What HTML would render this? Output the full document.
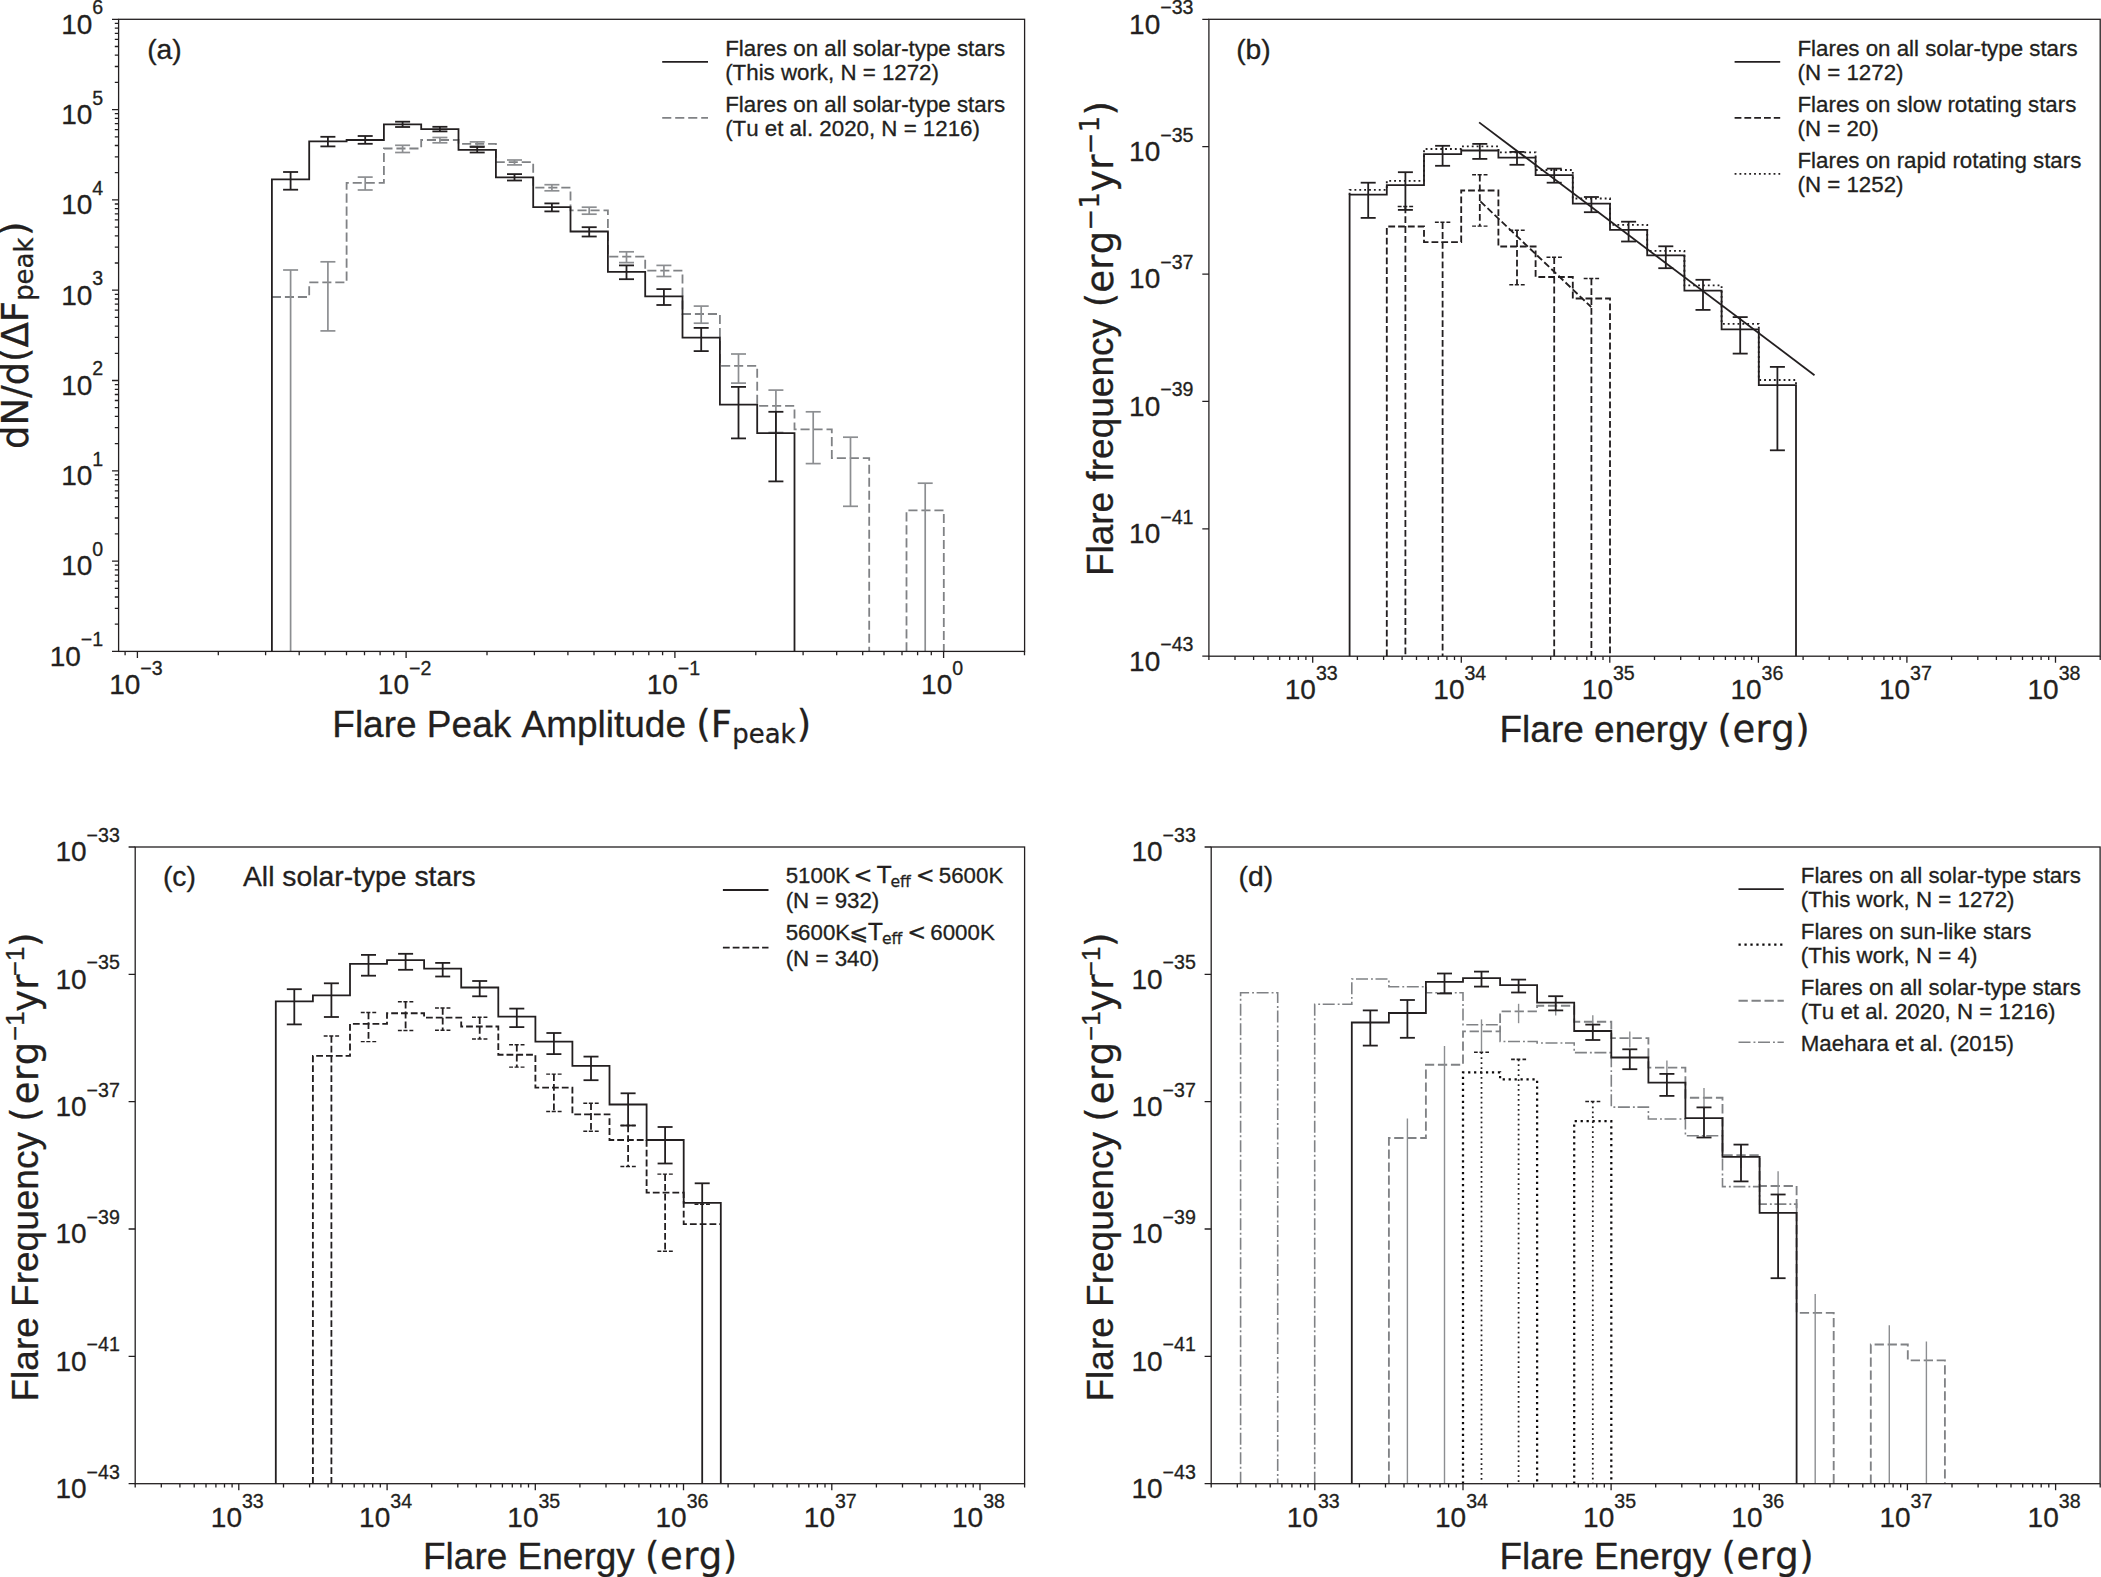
<!DOCTYPE html>
<html lang="en"><head><meta charset="utf-8"><title>Flare frequency distributions</title>
<style>
html,body{margin:0;padding:0;background:#fff}
svg{display:block}
text{font-family:"Liberation Sans",sans-serif;fill:#231f20;font-kerning:none;white-space:pre;stroke:#231f20;stroke-width:.3px;stroke-linejoin:round}
.mt{font-family:"DejaVu Sans",sans-serif}
.ax rect,.ax path{fill:none;stroke:#231f20;stroke-width:1.3}
.tk text{font-size:28px}
.tk .sp{font-size:19.6px}
.pl{font-size:28.3px}
.lg{font-size:22.3px}
.ls{font-size:15.6px}
.lm{font-size:22.6px}
.al{font-size:37px}
.ms{font-size:25.9px}
.ss{font-size:25.9px}
path,line{fill:none}
.ks{stroke:#231f20;stroke-width:1.8}
.ke{stroke:#231f20;stroke-width:1.8}
.gd{stroke:#808285;stroke-width:1.8;stroke-dasharray:9.1 3.9}
.ge{stroke:#8c8e91;stroke-width:1.7}
.kd{stroke:#231f20;stroke-width:1.85;stroke-dasharray:6.8 3}
.kd2{stroke:#231f20;stroke-width:1.85;stroke-dasharray:6.8 3}
.kde{stroke:#231f20;stroke-width:1.8;stroke-dasharray:6.8 3}
.kdc{stroke:#231f20;stroke-width:1.45;stroke-dasharray:3.9 1.6 4.1 1.9 3.9 9}
.kdot{stroke:#231f20;stroke-width:1.85;stroke-dasharray:1.85 3.02}
.gdd{stroke:#808285;stroke-width:1.6;stroke-dasharray:12 3 1.9 2.6}
.gd2{stroke:#808285;stroke-width:1.85;stroke-dasharray:9.3 3.7}
.gt{stroke:#8c8e91;stroke-width:1.4}
.kdot2{stroke:#0d0a0b;stroke-width:2.25;stroke-dasharray:2.25 3.7}
.kdte{stroke:#231f20;stroke-width:1.75;stroke-dasharray:1.75 3.2}
.kdtc{stroke:#231f20;stroke-width:1.6;stroke-dasharray:3.7 1.8 3.7 2.2 3.7 9}
</style></head>
<body>
<svg width="2101" height="1577" viewBox="0 0 2101 1577">
<rect width="2101" height="1577" fill="#fff"/>
<g id="pa">
<path d="M271.9 297H309.2V282.4H346.6V182.8H383.9V148.5H421.2V140H458.5V143.8H495.9V162.2H533.2V187.6H570.5V210.4H607.9V256.7H645.2V270.6H682.5V314H719.9V365.8H757.2V405.8H794.5V429.4H831.8V458.1H869.2V651.4" class="gd"/>
<path d="M906.5 651.4V510.3H943.8V651.4" class="gd"/>
<line x1="290.6" y1="270" x2="290.6" y2="651.4" class="ge"/>
<line x1="283.1" y1="270" x2="298.1" y2="270" class="ge"/>
<line x1="327.9" y1="261.8" x2="327.9" y2="330.9" class="ge"/>
<line x1="320.4" y1="261.8" x2="335.4" y2="261.8" class="ge"/>
<line x1="320.4" y1="330.9" x2="335.4" y2="330.9" class="ge"/>
<line x1="365.2" y1="177.1" x2="365.2" y2="190" class="ge"/>
<line x1="357.7" y1="177.1" x2="372.7" y2="177.1" class="ge"/>
<line x1="357.7" y1="190" x2="372.7" y2="190" class="ge"/>
<line x1="402.6" y1="145.3" x2="402.6" y2="152.5" class="ge"/>
<line x1="395.1" y1="145.3" x2="410.1" y2="145.3" class="ge"/>
<line x1="395.1" y1="152.5" x2="410.1" y2="152.5" class="ge"/>
<line x1="439.9" y1="137.5" x2="439.9" y2="142.8" class="ge"/>
<line x1="432.4" y1="137.5" x2="447.4" y2="137.5" class="ge"/>
<line x1="432.4" y1="142.8" x2="447.4" y2="142.8" class="ge"/>
<line x1="477.2" y1="141.9" x2="477.2" y2="146.1" class="ge"/>
<line x1="469.7" y1="141.9" x2="484.7" y2="141.9" class="ge"/>
<line x1="469.7" y1="146.1" x2="484.7" y2="146.1" class="ge"/>
<line x1="514.5" y1="160" x2="514.5" y2="164.9" class="ge"/>
<line x1="507" y1="160" x2="522" y2="160" class="ge"/>
<line x1="507" y1="164.9" x2="522" y2="164.9" class="ge"/>
<line x1="551.9" y1="184.7" x2="551.9" y2="190.8" class="ge"/>
<line x1="544.4" y1="184.7" x2="559.4" y2="184.7" class="ge"/>
<line x1="544.4" y1="190.8" x2="559.4" y2="190.8" class="ge"/>
<line x1="589.2" y1="207.2" x2="589.2" y2="214.2" class="ge"/>
<line x1="581.7" y1="207.2" x2="596.7" y2="207.2" class="ge"/>
<line x1="581.7" y1="214.2" x2="596.7" y2="214.2" class="ge"/>
<line x1="626.5" y1="251.8" x2="626.5" y2="262.6" class="ge"/>
<line x1="619" y1="251.8" x2="634" y2="251.8" class="ge"/>
<line x1="619" y1="262.6" x2="634" y2="262.6" class="ge"/>
<line x1="663.9" y1="265.4" x2="663.9" y2="276.5" class="ge"/>
<line x1="656.4" y1="265.4" x2="671.4" y2="265.4" class="ge"/>
<line x1="656.4" y1="276.5" x2="671.4" y2="276.5" class="ge"/>
<line x1="701.2" y1="306.1" x2="701.2" y2="323.2" class="ge"/>
<line x1="693.7" y1="306.1" x2="708.7" y2="306.1" class="ge"/>
<line x1="693.7" y1="323.2" x2="708.7" y2="323.2" class="ge"/>
<line x1="738.5" y1="354" x2="738.5" y2="383.1" class="ge"/>
<line x1="731" y1="354" x2="746" y2="354" class="ge"/>
<line x1="731" y1="383.1" x2="746" y2="383.1" class="ge"/>
<line x1="775.9" y1="390.1" x2="775.9" y2="432.5" class="ge"/>
<line x1="768.4" y1="390.1" x2="783.4" y2="390.1" class="ge"/>
<line x1="768.4" y1="432.5" x2="783.4" y2="432.5" class="ge"/>
<line x1="813.2" y1="411.8" x2="813.2" y2="463.6" class="ge"/>
<line x1="805.7" y1="411.8" x2="820.7" y2="411.8" class="ge"/>
<line x1="805.7" y1="463.6" x2="820.7" y2="463.6" class="ge"/>
<line x1="850.5" y1="437.2" x2="850.5" y2="506.3" class="ge"/>
<line x1="843" y1="437.2" x2="858" y2="437.2" class="ge"/>
<line x1="843" y1="506.3" x2="858" y2="506.3" class="ge"/>
<line x1="925.2" y1="483.2" x2="925.2" y2="651.4" class="ge"/>
<line x1="917.7" y1="483.2" x2="932.7" y2="483.2" class="ge"/>
<path d="M271.9 651.4V179.4H309.2V141.4H346.6V140H383.9V124.4H421.2V129.1H458.5V149.9H495.9V177.3H533.2V207.2H570.5V231.5H607.9V271.8H645.2V296.3H682.5V337.7H719.9V404.7H757.2V433.2H794.5V651.4" class="ks"/>
<line x1="290.6" y1="172" x2="290.6" y2="189.7" class="ke"/>
<line x1="283.1" y1="172" x2="298.1" y2="172" class="ke"/>
<line x1="283.1" y1="189.7" x2="298.1" y2="189.7" class="ke"/>
<line x1="327.9" y1="136.8" x2="327.9" y2="146.4" class="ke"/>
<line x1="320.4" y1="136.8" x2="335.4" y2="136.8" class="ke"/>
<line x1="320.4" y1="146.4" x2="335.4" y2="146.4" class="ke"/>
<line x1="365.2" y1="136" x2="365.2" y2="143.8" class="ke"/>
<line x1="357.7" y1="136" x2="372.7" y2="136" class="ke"/>
<line x1="357.7" y1="143.8" x2="372.7" y2="143.8" class="ke"/>
<line x1="402.6" y1="121.7" x2="402.6" y2="127" class="ke"/>
<line x1="395.1" y1="121.7" x2="410.1" y2="121.7" class="ke"/>
<line x1="395.1" y1="127" x2="410.1" y2="127" class="ke"/>
<line x1="439.9" y1="126.8" x2="439.9" y2="131.4" class="ke"/>
<line x1="432.4" y1="126.8" x2="447.4" y2="126.8" class="ke"/>
<line x1="432.4" y1="131.4" x2="447.4" y2="131.4" class="ke"/>
<line x1="477.2" y1="147" x2="477.2" y2="152.5" class="ke"/>
<line x1="469.7" y1="147" x2="484.7" y2="147" class="ke"/>
<line x1="469.7" y1="152.5" x2="484.7" y2="152.5" class="ke"/>
<line x1="514.5" y1="174.1" x2="514.5" y2="180.5" class="ke"/>
<line x1="507" y1="174.1" x2="522" y2="174.1" class="ke"/>
<line x1="507" y1="180.5" x2="522" y2="180.5" class="ke"/>
<line x1="551.9" y1="203.4" x2="551.9" y2="211.4" class="ke"/>
<line x1="544.4" y1="203.4" x2="559.4" y2="203.4" class="ke"/>
<line x1="544.4" y1="211.4" x2="559.4" y2="211.4" class="ke"/>
<line x1="589.2" y1="227.2" x2="589.2" y2="236.5" class="ke"/>
<line x1="581.7" y1="227.2" x2="596.7" y2="227.2" class="ke"/>
<line x1="581.7" y1="236.5" x2="596.7" y2="236.5" class="ke"/>
<line x1="626.5" y1="265.4" x2="626.5" y2="279.2" class="ke"/>
<line x1="619" y1="265.4" x2="634" y2="265.4" class="ke"/>
<line x1="619" y1="279.2" x2="634" y2="279.2" class="ke"/>
<line x1="663.9" y1="289.1" x2="663.9" y2="305" class="ke"/>
<line x1="656.4" y1="289.1" x2="671.4" y2="289.1" class="ke"/>
<line x1="656.4" y1="305" x2="671.4" y2="305" class="ke"/>
<line x1="701.2" y1="327.9" x2="701.2" y2="351.1" class="ke"/>
<line x1="693.7" y1="327.9" x2="708.7" y2="327.9" class="ke"/>
<line x1="693.7" y1="351.1" x2="708.7" y2="351.1" class="ke"/>
<line x1="738.5" y1="386.9" x2="738.5" y2="438.4" class="ke"/>
<line x1="731" y1="386.9" x2="746" y2="386.9" class="ke"/>
<line x1="731" y1="438.4" x2="746" y2="438.4" class="ke"/>
<line x1="775.9" y1="411.8" x2="775.9" y2="481.4" class="ke"/>
<line x1="768.4" y1="411.8" x2="783.4" y2="411.8" class="ke"/>
<line x1="768.4" y1="481.4" x2="783.4" y2="481.4" class="ke"/>
<g class="ax">
<rect x="118.6" y="19.3" width="906" height="632.1"/>
<path d="M137.4 651.4v6.6M406.1 651.4v6.6M674.9 651.4v6.6M943.6 651.4v6.6M125.1 651.4v3.8M218.3 651.4v3.8M265.6 651.4v3.8M299.2 651.4v3.8M325.2 651.4v3.8M346.5 651.4v3.8M364.5 651.4v3.8M380.1 651.4v3.8M393.8 651.4v3.8M487 651.4v3.8M534.4 651.4v3.8M567.9 651.4v3.8M594 651.4v3.8M615.3 651.4v3.8M633.2 651.4v3.8M648.8 651.4v3.8M662.6 651.4v3.8M755.8 651.4v3.8M803.1 651.4v3.8M836.7 651.4v3.8M862.7 651.4v3.8M884 651.4v3.8M902 651.4v3.8M917.6 651.4v3.8M931.3 651.4v3.8M1024.5 651.4v3.8M118.6 19.3h-6.6M118.6 109.6h-6.6M118.6 199.9h-6.6M118.6 290.2h-6.6M118.6 380.5h-6.6M118.6 470.8h-6.6M118.6 561.1h-6.6M118.6 651.4h-6.6M118.6 624.2h-3.8M118.6 608.3h-3.8M118.6 597h-3.8M118.6 588.3h-3.8M118.6 581.1h-3.8M118.6 575.1h-3.8M118.6 569.9h-3.8M118.6 565.2h-3.8M118.6 533.9h-3.8M118.6 518h-3.8M118.6 506.7h-3.8M118.6 498h-3.8M118.6 490.8h-3.8M118.6 484.8h-3.8M118.6 479.6h-3.8M118.6 474.9h-3.8M118.6 443.6h-3.8M118.6 427.7h-3.8M118.6 416.4h-3.8M118.6 407.7h-3.8M118.6 400.5h-3.8M118.6 394.5h-3.8M118.6 389.3h-3.8M118.6 384.6h-3.8M118.6 353.3h-3.8M118.6 337.4h-3.8M118.6 326.1h-3.8M118.6 317.4h-3.8M118.6 310.2h-3.8M118.6 304.2h-3.8M118.6 299h-3.8M118.6 294.3h-3.8M118.6 263h-3.8M118.6 247.1h-3.8M118.6 235.8h-3.8M118.6 227.1h-3.8M118.6 219.9h-3.8M118.6 213.9h-3.8M118.6 208.7h-3.8M118.6 204h-3.8M118.6 172.7h-3.8M118.6 156.8h-3.8M118.6 145.5h-3.8M118.6 136.8h-3.8M118.6 129.6h-3.8M118.6 123.6h-3.8M118.6 118.4h-3.8M118.6 113.7h-3.8M118.6 82.4h-3.8M118.6 66.5h-3.8M118.6 55.2h-3.8M118.6 46.5h-3.8M118.6 39.3h-3.8M118.6 33.3h-3.8M118.6 28.1h-3.8M118.6 23.4h-3.8"/>
</g>
<g class="tk">
<text x="135.9" y="694.4" text-anchor="middle">10<tspan class="sp" dy="-19.2">−3</tspan></text>
<text x="404.6" y="694.4" text-anchor="middle">10<tspan class="sp" dy="-19.2">−2</tspan></text>
<text x="673.4" y="694.4" text-anchor="middle">10<tspan class="sp" dy="-19.2">−1</tspan></text>
<text x="942.1" y="694.4" text-anchor="middle">10<tspan class="sp" dy="-19.2">0</tspan></text>
<text x="103.2" y="33.6" text-anchor="end">10<tspan class="sp" dy="-19.4">6</tspan></text>
<text x="103.2" y="123.9" text-anchor="end">10<tspan class="sp" dy="-19.4">5</tspan></text>
<text x="103.2" y="214.2" text-anchor="end">10<tspan class="sp" dy="-19.4">4</tspan></text>
<text x="103.2" y="304.5" text-anchor="end">10<tspan class="sp" dy="-19.4">3</tspan></text>
<text x="103.2" y="394.8" text-anchor="end">10<tspan class="sp" dy="-19.4">2</tspan></text>
<text x="103.2" y="485.1" text-anchor="end">10<tspan class="sp" dy="-19.4">1</tspan></text>
<text x="103.2" y="575.4" text-anchor="end">10<tspan class="sp" dy="-19.4">0</tspan></text>
<text x="103.2" y="665.7" text-anchor="end">10<tspan class="sp" dy="-19.4">−1</tspan></text>
</g>
<text class="pl" x="147.2" y="58.5">(a)</text>
<line x1="662.2" y1="61.9" x2="708" y2="61.9" class="ks"/>
<line x1="662.2" y1="117.9" x2="708" y2="117.9" class="gd"/>
<text class="lg" x="725.2" y="55.5">Flares on all solar-type stars</text>
<text class="lg" x="725.2" y="79.5">(This work, N = 1272)</text>
<text class="lg" x="725.2" y="111.5">Flares on all solar-type stars</text>
<text class="lg" x="725.2" y="135.5">(Tu et al. 2020, N = 1216)</text>
<text class="al" x="332.3" y="737.3">Flare Peak Amplitude <tspan class="mt">(F</tspan><tspan class="mt ms" dy="5.6" dx=".3">peak</tspan><tspan class="mt" dy="-5.6" dx="1.3">)</tspan></text>
<text class="al mt" transform="translate(28.2 449.0) rotate(-90)">dN/d(ΔF<tspan class="ms" dy="5.2">peak</tspan><tspan dy="-5.2" dx="1.6">)</tspan></text>
</g>
<g id="pb">
<path d="M1349.6 194.7V189.8H1386.8V180.8H1424V149H1461.2V146.4H1498.4V152.3H1535.6V170H1572.8V198.5H1610V224.8H1647.2V250.9H1684.4V285.3H1721.6V323.8H1758.8V380H1796V385.1" class="kdot"/>
<path d="M1386.8 656.2V226.5H1424V242.1H1461.2V190.5H1498.4V246.5H1535.6V277H1572.8V298.5H1610V656.2" class="kd"/>
<line x1="1405.4" y1="206.5" x2="1405.4" y2="656.2" class="kde"/>
<line x1="1397.7" y1="206.5" x2="1413.1" y2="206.5" class="kdc"/>
<line x1="1442.6" y1="222.3" x2="1442.6" y2="656.2" class="kde"/>
<line x1="1434.9" y1="222.3" x2="1450.3" y2="222.3" class="kdc"/>
<line x1="1479.8" y1="174.7" x2="1479.8" y2="226.1" class="kde"/>
<line x1="1472.1" y1="174.7" x2="1487.5" y2="174.7" class="kdc"/>
<line x1="1472.1" y1="226.1" x2="1487.5" y2="226.1" class="kdc"/>
<line x1="1517" y1="230.3" x2="1517" y2="284.8" class="kde"/>
<line x1="1509.3" y1="230.3" x2="1524.7" y2="230.3" class="kdc"/>
<line x1="1509.3" y1="284.8" x2="1524.7" y2="284.8" class="kdc"/>
<line x1="1554.2" y1="257.2" x2="1554.2" y2="656.2" class="kde"/>
<line x1="1546.5" y1="257.2" x2="1561.9" y2="257.2" class="kdc"/>
<line x1="1591.4" y1="278.5" x2="1591.4" y2="656.2" class="kde"/>
<line x1="1583.7" y1="278.5" x2="1599.1" y2="278.5" class="kdc"/>
<path d="M1349.6 656.2V194.7H1386.8V185.2H1424V154.2H1461.2V150.5H1498.4V157.6H1535.6V175.1H1572.8V203.7H1610V229.9H1647.2V255.3H1684.4V290.7H1721.6V329.3H1758.8V385.1H1796V656.2" class="ks"/>
<line x1="1368.2" y1="182.7" x2="1368.2" y2="217.9" class="ke"/>
<line x1="1360.7" y1="182.7" x2="1375.7" y2="182.7" class="ke"/>
<line x1="1360.7" y1="217.9" x2="1375.7" y2="217.9" class="ke"/>
<line x1="1405.4" y1="172.2" x2="1405.4" y2="209.9" class="ke"/>
<line x1="1397.9" y1="172.2" x2="1412.9" y2="172.2" class="ke"/>
<line x1="1397.9" y1="209.9" x2="1412.9" y2="209.9" class="ke"/>
<line x1="1442.6" y1="145.8" x2="1442.6" y2="165.8" class="ke"/>
<line x1="1435.1" y1="145.8" x2="1450.1" y2="145.8" class="ke"/>
<line x1="1435.1" y1="165.8" x2="1450.1" y2="165.8" class="ke"/>
<line x1="1479.8" y1="143.9" x2="1479.8" y2="158.9" class="ke"/>
<line x1="1472.3" y1="143.9" x2="1487.3" y2="143.9" class="ke"/>
<line x1="1472.3" y1="158.9" x2="1487.3" y2="158.9" class="ke"/>
<line x1="1517" y1="151.9" x2="1517" y2="164.8" class="ke"/>
<line x1="1509.5" y1="151.9" x2="1524.5" y2="151.9" class="ke"/>
<line x1="1509.5" y1="164.8" x2="1524.5" y2="164.8" class="ke"/>
<line x1="1554.2" y1="168.6" x2="1554.2" y2="182.7" class="ke"/>
<line x1="1546.7" y1="168.6" x2="1561.7" y2="168.6" class="ke"/>
<line x1="1546.7" y1="182.7" x2="1561.7" y2="182.7" class="ke"/>
<line x1="1591.4" y1="197" x2="1591.4" y2="212.2" class="ke"/>
<line x1="1583.9" y1="197" x2="1598.9" y2="197" class="ke"/>
<line x1="1583.9" y1="212.2" x2="1598.9" y2="212.2" class="ke"/>
<line x1="1628.6" y1="221.7" x2="1628.6" y2="241.5" class="ke"/>
<line x1="1621.1" y1="221.7" x2="1636.1" y2="221.7" class="ke"/>
<line x1="1621.1" y1="241.5" x2="1636.1" y2="241.5" class="ke"/>
<line x1="1665.8" y1="246.3" x2="1665.8" y2="268.2" class="ke"/>
<line x1="1658.3" y1="246.3" x2="1673.3" y2="246.3" class="ke"/>
<line x1="1658.3" y1="268.2" x2="1673.3" y2="268.2" class="ke"/>
<line x1="1703" y1="279.8" x2="1703" y2="309.9" class="ke"/>
<line x1="1695.5" y1="279.8" x2="1710.5" y2="279.8" class="ke"/>
<line x1="1695.5" y1="309.9" x2="1710.5" y2="309.9" class="ke"/>
<line x1="1740.2" y1="317.1" x2="1740.2" y2="353.6" class="ke"/>
<line x1="1732.7" y1="317.1" x2="1747.7" y2="317.1" class="ke"/>
<line x1="1732.7" y1="353.6" x2="1747.7" y2="353.6" class="ke"/>
<line x1="1777.4" y1="366.9" x2="1777.4" y2="450.3" class="ke"/>
<line x1="1769.9" y1="366.9" x2="1784.9" y2="366.9" class="ke"/>
<line x1="1769.9" y1="450.3" x2="1784.9" y2="450.3" class="ke"/>
<line x1="1479.1" y1="122.4" x2="1814.5" y2="375.2" class="ks"/>
<line x1="1480.4" y1="201.4" x2="1591.2" y2="307" class="kd2"/>
<g class="ax">
<rect x="1208.9" y="19.3" width="891.3" height="636.9"/>
<path d="M1312.7 656.2v6.6M1461.3 656.2v6.6M1609.8 656.2v6.6M1758.4 656.2v6.6M1906.9 656.2v6.6M2055.5 656.2v6.6M1208.9 656.2v3.8M1235 656.2v3.8M1253.6 656.2v3.8M1268 656.2v3.8M1279.7 656.2v3.8M1289.7 656.2v3.8M1298.3 656.2v3.8M1305.9 656.2v3.8M1357.4 656.2v3.8M1383.6 656.2v3.8M1402.1 656.2v3.8M1416.5 656.2v3.8M1428.3 656.2v3.8M1438.2 656.2v3.8M1446.9 656.2v3.8M1454.5 656.2v3.8M1506 656.2v3.8M1532.1 656.2v3.8M1550.7 656.2v3.8M1565.1 656.2v3.8M1576.9 656.2v3.8M1586.8 656.2v3.8M1595.4 656.2v3.8M1603 656.2v3.8M1654.5 656.2v3.8M1680.7 656.2v3.8M1699.3 656.2v3.8M1713.7 656.2v3.8M1725.4 656.2v3.8M1735.4 656.2v3.8M1744 656.2v3.8M1751.6 656.2v3.8M1803.1 656.2v3.8M1829.2 656.2v3.8M1847.8 656.2v3.8M1862.2 656.2v3.8M1874 656.2v3.8M1883.9 656.2v3.8M1892.5 656.2v3.8M1900.1 656.2v3.8M1951.6 656.2v3.8M1977.8 656.2v3.8M1996.4 656.2v3.8M2010.8 656.2v3.8M2022.5 656.2v3.8M2032.5 656.2v3.8M2041.1 656.2v3.8M2048.7 656.2v3.8M2100.2 656.2v3.8M1208.9 19.3h-6.6M1208.9 146.7h-6.6M1208.9 274.1h-6.6M1208.9 401.4h-6.6M1208.9 528.8h-6.6M1208.9 656.2h-6.6"/>
</g>
<g class="tk">
<text x="1311.2" y="699.2" text-anchor="middle">10<tspan class="sp" dy="-19.2">33</tspan></text>
<text x="1459.8" y="699.2" text-anchor="middle">10<tspan class="sp" dy="-19.2">34</tspan></text>
<text x="1608.3" y="699.2" text-anchor="middle">10<tspan class="sp" dy="-19.2">35</tspan></text>
<text x="1756.9" y="699.2" text-anchor="middle">10<tspan class="sp" dy="-19.2">36</tspan></text>
<text x="1905.4" y="699.2" text-anchor="middle">10<tspan class="sp" dy="-19.2">37</tspan></text>
<text x="2054" y="699.2" text-anchor="middle">10<tspan class="sp" dy="-19.2">38</tspan></text>
<text x="1193.5" y="33.6" text-anchor="end">10<tspan class="sp" dy="-19.4">−33</tspan></text>
<text x="1193.5" y="161" text-anchor="end">10<tspan class="sp" dy="-19.4">−35</tspan></text>
<text x="1193.5" y="288.4" text-anchor="end">10<tspan class="sp" dy="-19.4">−37</tspan></text>
<text x="1193.5" y="415.7" text-anchor="end">10<tspan class="sp" dy="-19.4">−39</tspan></text>
<text x="1193.5" y="543.1" text-anchor="end">10<tspan class="sp" dy="-19.4">−41</tspan></text>
<text x="1193.5" y="670.5" text-anchor="end">10<tspan class="sp" dy="-19.4">−43</tspan></text>
</g>
<text class="pl" x="1236.2" y="58.5">(b)</text>
<line x1="1734.6" y1="61.9" x2="1780.2" y2="61.9" class="ks"/>
<line x1="1734.6" y1="117.9" x2="1780.2" y2="117.9" class="kd"/>
<line x1="1734.6" y1="173.9" x2="1780.2" y2="173.9" class="kdot"/>
<text class="lg" x="1797.5" y="55.5">Flares on all solar-type stars</text>
<text class="lg" x="1797.5" y="79.5">(N = 1272)</text>
<text class="lg" x="1797.5" y="111.5">Flares on slow rotating stars</text>
<text class="lg" x="1797.5" y="135.5">(N = 20)</text>
<text class="lg" x="1797.5" y="167.6">Flares on rapid rotating stars</text>
<text class="lg" x="1797.5" y="191.5">(N = 1252)</text>
<text class="al" x="1499.5" y="741.6">Flare energy <tspan class="mt" style="letter-spacing:.45px">(erg)</tspan></text>
<text class="al" transform="translate(1112.9 576.1) rotate(-90)">Flare frequency <tspan class="mt" dx="1.4" style="letter-spacing:.25px">(erg<tspan class="ms" dy="-13.5">−1</tspan><tspan dy="13.5">yr</tspan><tspan class="ms" dy="-13.5">−1</tspan><tspan dy="13.5">)</tspan></tspan></text>
</g>
<g id="pc">
<path d="M312.9 1483.7V1055.8H350V1023.9H387V1013.2H424.1V1017.6H461.2V1026.5H498.3V1054.7H535.4V1087.6H572.4V1114.3H609.5V1140H646.6V1192.6H683.7V1224.1H720.8" class="kd"/>
<line x1="331.4" y1="1036" x2="331.4" y2="1483.7" class="kde"/>
<line x1="323.7" y1="1036" x2="339.1" y2="1036" class="kdc"/>
<line x1="368.5" y1="1012.4" x2="368.5" y2="1041.6" class="kde"/>
<line x1="360.8" y1="1012.4" x2="376.2" y2="1012.4" class="kdc"/>
<line x1="360.8" y1="1041.6" x2="376.2" y2="1041.6" class="kdc"/>
<line x1="405.6" y1="1001.8" x2="405.6" y2="1030.5" class="kde"/>
<line x1="397.9" y1="1001.8" x2="413.3" y2="1001.8" class="kdc"/>
<line x1="397.9" y1="1030.5" x2="413.3" y2="1030.5" class="kdc"/>
<line x1="442.7" y1="1007.9" x2="442.7" y2="1030.3" class="kde"/>
<line x1="435" y1="1007.9" x2="450.4" y2="1007.9" class="kdc"/>
<line x1="435" y1="1030.3" x2="450.4" y2="1030.3" class="kdc"/>
<line x1="479.7" y1="1017.2" x2="479.7" y2="1038.9" class="kde"/>
<line x1="472" y1="1017.2" x2="487.4" y2="1017.2" class="kdc"/>
<line x1="472" y1="1038.9" x2="487.4" y2="1038.9" class="kdc"/>
<line x1="516.8" y1="1044.8" x2="516.8" y2="1067.1" class="kde"/>
<line x1="509.1" y1="1044.8" x2="524.5" y2="1044.8" class="kdc"/>
<line x1="509.1" y1="1067.1" x2="524.5" y2="1067.1" class="kdc"/>
<line x1="553.9" y1="1074.1" x2="553.9" y2="1111.4" class="kde"/>
<line x1="546.2" y1="1074.1" x2="561.6" y2="1074.1" class="kdc"/>
<line x1="546.2" y1="1111.4" x2="561.6" y2="1111.4" class="kdc"/>
<line x1="591" y1="1103.3" x2="591" y2="1131.3" class="kde"/>
<line x1="583.3" y1="1103.3" x2="598.7" y2="1103.3" class="kdc"/>
<line x1="583.3" y1="1131.3" x2="598.7" y2="1131.3" class="kdc"/>
<line x1="628.1" y1="1125.5" x2="628.1" y2="1166.4" class="kde"/>
<line x1="620.4" y1="1125.5" x2="635.8" y2="1125.5" class="kdc"/>
<line x1="620.4" y1="1166.4" x2="635.8" y2="1166.4" class="kdc"/>
<line x1="665.1" y1="1174.1" x2="665.1" y2="1251.2" class="kde"/>
<line x1="657.4" y1="1174.1" x2="672.8" y2="1174.1" class="kdc"/>
<line x1="657.4" y1="1251.2" x2="672.8" y2="1251.2" class="kdc"/>
<line x1="694.5" y1="1204.3" x2="709.9" y2="1204.3" class="kdc"/>
<path d="M275.8 1483.7V1001.4H312.9V995.3H350V963.9H387V960.1H424.1V968.6H461.2V987.5H498.3V1016.6H535.4V1041.6H572.4V1065.8H609.5V1104.5H646.6V1140H683.7V1202.9H720.8V1483.7" class="ks"/>
<line x1="294.3" y1="989.2" x2="294.3" y2="1024.4" class="ke"/>
<line x1="286.8" y1="989.2" x2="301.8" y2="989.2" class="ke"/>
<line x1="286.8" y1="1024.4" x2="301.8" y2="1024.4" class="ke"/>
<line x1="331.4" y1="983.3" x2="331.4" y2="1017" class="ke"/>
<line x1="323.9" y1="983.3" x2="338.9" y2="983.3" class="ke"/>
<line x1="323.9" y1="1017" x2="338.9" y2="1017" class="ke"/>
<line x1="368.5" y1="954.9" x2="368.5" y2="975.7" class="ke"/>
<line x1="361" y1="954.9" x2="376" y2="954.9" class="ke"/>
<line x1="361" y1="975.7" x2="376" y2="975.7" class="ke"/>
<line x1="405.6" y1="953.8" x2="405.6" y2="969.8" class="ke"/>
<line x1="398.1" y1="953.8" x2="413.1" y2="953.8" class="ke"/>
<line x1="398.1" y1="969.8" x2="413.1" y2="969.8" class="ke"/>
<line x1="442.7" y1="962.9" x2="442.7" y2="976.5" class="ke"/>
<line x1="435.2" y1="962.9" x2="450.2" y2="962.9" class="ke"/>
<line x1="435.2" y1="976.5" x2="450.2" y2="976.5" class="ke"/>
<line x1="479.7" y1="981" x2="479.7" y2="996.3" class="ke"/>
<line x1="472.2" y1="981" x2="487.2" y2="981" class="ke"/>
<line x1="472.2" y1="996.3" x2="487.2" y2="996.3" class="ke"/>
<line x1="516.8" y1="1008.6" x2="516.8" y2="1027.1" class="ke"/>
<line x1="509.3" y1="1008.6" x2="524.3" y2="1008.6" class="ke"/>
<line x1="509.3" y1="1027.1" x2="524.3" y2="1027.1" class="ke"/>
<line x1="553.9" y1="1033" x2="553.9" y2="1054.1" class="ke"/>
<line x1="546.4" y1="1033" x2="561.4" y2="1033" class="ke"/>
<line x1="546.4" y1="1054.1" x2="561.4" y2="1054.1" class="ke"/>
<line x1="591" y1="1056.6" x2="591" y2="1080.2" class="ke"/>
<line x1="583.5" y1="1056.6" x2="598.5" y2="1056.6" class="ke"/>
<line x1="583.5" y1="1080.2" x2="598.5" y2="1080.2" class="ke"/>
<line x1="628.1" y1="1093.3" x2="628.1" y2="1125.5" class="ke"/>
<line x1="620.6" y1="1093.3" x2="635.6" y2="1093.3" class="ke"/>
<line x1="620.6" y1="1125.5" x2="635.6" y2="1125.5" class="ke"/>
<line x1="665.1" y1="1127" x2="665.1" y2="1163.5" class="ke"/>
<line x1="657.6" y1="1127" x2="672.6" y2="1127" class="ke"/>
<line x1="657.6" y1="1163.5" x2="672.6" y2="1163.5" class="ke"/>
<line x1="702.2" y1="1183.3" x2="702.2" y2="1483.7" class="ke"/>
<line x1="694.7" y1="1183.3" x2="709.7" y2="1183.3" class="ke"/>
<g class="ax">
<rect x="135.2" y="847" width="889.4" height="636.7"/>
<path d="M238.8 1483.7v6.6M387.1 1483.7v6.6M535.3 1483.7v6.6M683.5 1483.7v6.6M831.8 1483.7v6.6M980 1483.7v6.6M135.2 1483.7v3.8M161.3 1483.7v3.8M179.9 1483.7v3.8M194.2 1483.7v3.8M206 1483.7v3.8M215.9 1483.7v3.8M224.5 1483.7v3.8M232.1 1483.7v3.8M283.5 1483.7v3.8M309.6 1483.7v3.8M328.1 1483.7v3.8M342.4 1483.7v3.8M354.2 1483.7v3.8M364.1 1483.7v3.8M372.7 1483.7v3.8M380.3 1483.7v3.8M431.7 1483.7v3.8M457.8 1483.7v3.8M476.3 1483.7v3.8M490.7 1483.7v3.8M502.4 1483.7v3.8M512.3 1483.7v3.8M520.9 1483.7v3.8M528.5 1483.7v3.8M579.9 1483.7v3.8M606 1483.7v3.8M624.5 1483.7v3.8M638.9 1483.7v3.8M650.6 1483.7v3.8M660.6 1483.7v3.8M669.2 1483.7v3.8M676.7 1483.7v3.8M728.1 1483.7v3.8M754.2 1483.7v3.8M772.8 1483.7v3.8M787.1 1483.7v3.8M798.9 1483.7v3.8M808.8 1483.7v3.8M817.4 1483.7v3.8M825 1483.7v3.8M876.4 1483.7v3.8M902.5 1483.7v3.8M921 1483.7v3.8M935.4 1483.7v3.8M947.1 1483.7v3.8M957 1483.7v3.8M965.6 1483.7v3.8M973.2 1483.7v3.8M1024.6 1483.7v3.8M135.2 847h-6.6M135.2 974.3h-6.6M135.2 1101.7h-6.6M135.2 1229h-6.6M135.2 1356.4h-6.6M135.2 1483.7h-6.6"/>
</g>
<g class="tk">
<text x="237.3" y="1526.7" text-anchor="middle">10<tspan class="sp" dy="-19.2">33</tspan></text>
<text x="385.6" y="1526.7" text-anchor="middle">10<tspan class="sp" dy="-19.2">34</tspan></text>
<text x="533.8" y="1526.7" text-anchor="middle">10<tspan class="sp" dy="-19.2">35</tspan></text>
<text x="682" y="1526.7" text-anchor="middle">10<tspan class="sp" dy="-19.2">36</tspan></text>
<text x="830.3" y="1526.7" text-anchor="middle">10<tspan class="sp" dy="-19.2">37</tspan></text>
<text x="978.5" y="1526.7" text-anchor="middle">10<tspan class="sp" dy="-19.2">38</tspan></text>
<text x="119.8" y="861.3" text-anchor="end">10<tspan class="sp" dy="-19.4">−33</tspan></text>
<text x="119.8" y="988.6" text-anchor="end">10<tspan class="sp" dy="-19.4">−35</tspan></text>
<text x="119.8" y="1116" text-anchor="end">10<tspan class="sp" dy="-19.4">−37</tspan></text>
<text x="119.8" y="1243.3" text-anchor="end">10<tspan class="sp" dy="-19.4">−39</tspan></text>
<text x="119.8" y="1370.7" text-anchor="end">10<tspan class="sp" dy="-19.4">−41</tspan></text>
<text x="119.8" y="1498" text-anchor="end">10<tspan class="sp" dy="-19.4">−43</tspan></text>
</g>
<text class="pl" x="162.9" y="885.7">(c)</text>
<text class="pl" x="243.0" y="885.7">All solar-type stars</text>
<line x1="722.9" y1="890" x2="768.5" y2="890" class="ks"/>
<line x1="722.9" y1="947.6" x2="768.5" y2="947.6" class="kd"/>
<text class="lg" y="883.0"><tspan x="785.7">5100K</tspan><tspan class="mt lm" x="853.5">&lt;</tspan><tspan class="mt lm" x="877.2">T</tspan><tspan class="mt ls" x="890.5" dy="3.7">eff</tspan><tspan class="mt lm" x="915.8" dy="-3.7">&lt;</tspan><tspan x="938.8">5600K</tspan></text>
<text class="lg" x="785.7" y="908.1">(N = 932)</text>
<text class="lg" y="940.3"><tspan x="785.7">5600K</tspan><tspan class="mt lm" x="849.6">⩽</tspan><tspan class="mt lm" x="868.6">T</tspan><tspan class="mt ls" x="881.9" dy="3.7">eff</tspan><tspan class="mt lm" x="907.2" dy="-3.7">&lt;</tspan><tspan x="930.3">6000K</tspan></text>
<text class="lg" x="785.7" y="965.5">(N = 340)</text>
<text class="al" x="423.0" y="1568.5">Flare Energy <tspan class="mt" style="letter-spacing:.45px">(erg)</tspan></text>
<text class="al" transform="translate(37.8 1401.5) rotate(-90)">Flare Frequency <tspan class="mt">(</tspan><tspan class="mt" dx="3.2" style="letter-spacing:.45px">erg</tspan><tspan class="ss" dx=".5" dy="-13.6">−1</tspan><tspan class="mt" dy="13.6" dx="-.3">yr</tspan><tspan class="ss" dx="-1.6" dy="-13.6">−1</tspan><tspan class="mt" dy="13.6" dx="-.4">)</tspan></text>
</g>
<g id="pd">
<path d="M1240.6 1483.7V992.7H1277.7V1483.7" class="gdd"/>
<path d="M1314.7 1483.7V1004.2H1351.8V979H1388.9V986.7H1425.9V992.7H1463V1024.7H1500.1V1041.5H1537.1V1043H1574.2V1052.6H1611.3V1107.1H1648.4V1119H1685.4V1135.7H1722.5V1186.6H1759.6V1204.1H1796.6V1212.8" class="gdd"/>
<path d="M1388.9 1483.7V1138H1425.9V1064.7H1463V1031.4H1500.1V1011.4H1537.1V1005.7H1574.2V1021.7H1611.3V1038.1H1648.4V1067.6H1685.4V1097.7H1722.5V1155.2H1759.6V1186H1796.6V1312.8H1833.7V1483.7" class="gd2"/>
<path d="M1870.8 1483.7V1344.5H1907.8V1360.4H1944.9V1483.7" class="gd2"/>
<line x1="1407.4" y1="1118.6" x2="1407.4" y2="1483.7" class="gt"/>
<line x1="1444.5" y1="1046.1" x2="1444.5" y2="1483.7" class="gt"/>
<line x1="1481.5" y1="1019.4" x2="1481.5" y2="1051.4" class="gt"/>
<line x1="1518.6" y1="1003.8" x2="1518.6" y2="1023.2" class="gt"/>
<line x1="1555.7" y1="998" x2="1555.7" y2="1015.6" class="gt"/>
<line x1="1592.8" y1="1015.2" x2="1592.8" y2="1030" class="gt"/>
<line x1="1629.8" y1="1031.4" x2="1629.8" y2="1047.6" class="gt"/>
<line x1="1666.9" y1="1060.5" x2="1666.9" y2="1076.2" class="gt"/>
<line x1="1704" y1="1088.1" x2="1704" y2="1110" class="gt"/>
<line x1="1741" y1="1145" x2="1741" y2="1168" class="gt"/>
<line x1="1778.1" y1="1171.3" x2="1778.1" y2="1205" class="gt"/>
<line x1="1815.2" y1="1294" x2="1815.2" y2="1483.7" class="gt"/>
<line x1="1889.3" y1="1325.2" x2="1889.3" y2="1483.7" class="gt"/>
<line x1="1926.4" y1="1341.5" x2="1926.4" y2="1483.7" class="gt"/>
<path d="M1463 1483.7V1072.3H1500.1V1079.4H1537.1V1483.7" class="kdot2"/>
<path d="M1574.2 1483.7V1121.2H1611.3V1483.7" class="kdot2"/>
<line x1="1481.5" y1="1052.3" x2="1481.5" y2="1483.7" class="kdte"/>
<line x1="1474" y1="1052.3" x2="1489" y2="1052.3" class="kdtc"/>
<line x1="1518.6" y1="1059.4" x2="1518.6" y2="1483.7" class="kdte"/>
<line x1="1511.1" y1="1059.4" x2="1526.1" y2="1059.4" class="kdtc"/>
<line x1="1592.8" y1="1101.5" x2="1592.8" y2="1483.7" class="kdte"/>
<line x1="1585.3" y1="1101.5" x2="1600.3" y2="1101.5" class="kdtc"/>
<path d="M1351.8 1483.7V1022.5H1388.9V1013H1425.9V981.8H1463V978.2H1500.1V985.2H1537.1V1002.6H1574.2V1031H1611.3V1057.5H1648.4V1082.7H1685.4V1118.2H1722.5V1156.9H1759.6V1212.8H1796.6V1483.7" class="ks"/>
<line x1="1370.3" y1="1010.4" x2="1370.3" y2="1045.6" class="ke"/>
<line x1="1362.8" y1="1010.4" x2="1377.8" y2="1010.4" class="ke"/>
<line x1="1362.8" y1="1045.6" x2="1377.8" y2="1045.6" class="ke"/>
<line x1="1407.4" y1="1000" x2="1407.4" y2="1037.8" class="ke"/>
<line x1="1399.9" y1="1000" x2="1414.9" y2="1000" class="ke"/>
<line x1="1399.9" y1="1037.8" x2="1414.9" y2="1037.8" class="ke"/>
<line x1="1444.5" y1="973.5" x2="1444.5" y2="993.5" class="ke"/>
<line x1="1437" y1="973.5" x2="1452" y2="973.5" class="ke"/>
<line x1="1437" y1="993.5" x2="1452" y2="993.5" class="ke"/>
<line x1="1481.5" y1="971.6" x2="1481.5" y2="986.6" class="ke"/>
<line x1="1474" y1="971.6" x2="1489" y2="971.6" class="ke"/>
<line x1="1474" y1="986.6" x2="1489" y2="986.6" class="ke"/>
<line x1="1518.6" y1="979.6" x2="1518.6" y2="992.5" class="ke"/>
<line x1="1511.1" y1="979.6" x2="1526.1" y2="979.6" class="ke"/>
<line x1="1511.1" y1="992.5" x2="1526.1" y2="992.5" class="ke"/>
<line x1="1555.7" y1="996.2" x2="1555.7" y2="1010.4" class="ke"/>
<line x1="1548.2" y1="996.2" x2="1563.2" y2="996.2" class="ke"/>
<line x1="1548.2" y1="1010.4" x2="1563.2" y2="1010.4" class="ke"/>
<line x1="1592.8" y1="1024.6" x2="1592.8" y2="1040" class="ke"/>
<line x1="1585.3" y1="1024.6" x2="1600.3" y2="1024.6" class="ke"/>
<line x1="1585.3" y1="1040" x2="1600.3" y2="1040" class="ke"/>
<line x1="1629.8" y1="1049.3" x2="1629.8" y2="1069.2" class="ke"/>
<line x1="1622.3" y1="1049.3" x2="1637.3" y2="1049.3" class="ke"/>
<line x1="1622.3" y1="1069.2" x2="1637.3" y2="1069.2" class="ke"/>
<line x1="1666.9" y1="1073.9" x2="1666.9" y2="1095.9" class="ke"/>
<line x1="1659.4" y1="1073.9" x2="1674.4" y2="1073.9" class="ke"/>
<line x1="1659.4" y1="1095.9" x2="1674.4" y2="1095.9" class="ke"/>
<line x1="1704" y1="1107.4" x2="1704" y2="1137.5" class="ke"/>
<line x1="1696.5" y1="1107.4" x2="1711.5" y2="1107.4" class="ke"/>
<line x1="1696.5" y1="1137.5" x2="1711.5" y2="1137.5" class="ke"/>
<line x1="1741" y1="1144.6" x2="1741" y2="1181.4" class="ke"/>
<line x1="1733.5" y1="1144.6" x2="1748.5" y2="1144.6" class="ke"/>
<line x1="1733.5" y1="1181.4" x2="1748.5" y2="1181.4" class="ke"/>
<line x1="1778.1" y1="1194.5" x2="1778.1" y2="1278.2" class="ke"/>
<line x1="1770.6" y1="1194.5" x2="1785.6" y2="1194.5" class="ke"/>
<line x1="1770.6" y1="1278.2" x2="1785.6" y2="1278.2" class="ke"/>
<g class="ax">
<rect x="1211.2" y="847" width="888.9" height="636.7"/>
<path d="M1314.8 1483.7v6.6M1463 1483.7v6.6M1611.1 1483.7v6.6M1759.3 1483.7v6.6M1907.4 1483.7v6.6M2055.6 1483.7v6.6M1211.2 1483.7v3.8M1237.3 1483.7v3.8M1255.9 1483.7v3.8M1270.2 1483.7v3.8M1281.9 1483.7v3.8M1291.9 1483.7v3.8M1300.5 1483.7v3.8M1308 1483.7v3.8M1359.4 1483.7v3.8M1385.5 1483.7v3.8M1404 1483.7v3.8M1418.4 1483.7v3.8M1430.1 1483.7v3.8M1440 1483.7v3.8M1448.6 1483.7v3.8M1456.2 1483.7v3.8M1507.6 1483.7v3.8M1533.7 1483.7v3.8M1552.2 1483.7v3.8M1566.5 1483.7v3.8M1578.3 1483.7v3.8M1588.2 1483.7v3.8M1596.8 1483.7v3.8M1604.3 1483.7v3.8M1655.7 1483.7v3.8M1681.8 1483.7v3.8M1700.3 1483.7v3.8M1714.7 1483.7v3.8M1726.4 1483.7v3.8M1736.3 1483.7v3.8M1744.9 1483.7v3.8M1752.5 1483.7v3.8M1803.9 1483.7v3.8M1830 1483.7v3.8M1848.5 1483.7v3.8M1862.8 1483.7v3.8M1874.6 1483.7v3.8M1884.5 1483.7v3.8M1893.1 1483.7v3.8M1900.7 1483.7v3.8M1952 1483.7v3.8M1978.1 1483.7v3.8M1996.6 1483.7v3.8M2011 1483.7v3.8M2022.7 1483.7v3.8M2032.6 1483.7v3.8M2041.2 1483.7v3.8M2048.8 1483.7v3.8M2100.2 1483.7v3.8M1211.2 847h-6.6M1211.2 974.3h-6.6M1211.2 1101.7h-6.6M1211.2 1229h-6.6M1211.2 1356.4h-6.6M1211.2 1483.7h-6.6"/>
</g>
<g class="tk">
<text x="1313.3" y="1526.7" text-anchor="middle">10<tspan class="sp" dy="-19.2">33</tspan></text>
<text x="1461.5" y="1526.7" text-anchor="middle">10<tspan class="sp" dy="-19.2">34</tspan></text>
<text x="1609.6" y="1526.7" text-anchor="middle">10<tspan class="sp" dy="-19.2">35</tspan></text>
<text x="1757.8" y="1526.7" text-anchor="middle">10<tspan class="sp" dy="-19.2">36</tspan></text>
<text x="1905.9" y="1526.7" text-anchor="middle">10<tspan class="sp" dy="-19.2">37</tspan></text>
<text x="2054.1" y="1526.7" text-anchor="middle">10<tspan class="sp" dy="-19.2">38</tspan></text>
<text x="1195.8" y="861.3" text-anchor="end">10<tspan class="sp" dy="-19.4">−33</tspan></text>
<text x="1195.8" y="988.6" text-anchor="end">10<tspan class="sp" dy="-19.4">−35</tspan></text>
<text x="1195.8" y="1116" text-anchor="end">10<tspan class="sp" dy="-19.4">−37</tspan></text>
<text x="1195.8" y="1243.3" text-anchor="end">10<tspan class="sp" dy="-19.4">−39</tspan></text>
<text x="1195.8" y="1370.7" text-anchor="end">10<tspan class="sp" dy="-19.4">−41</tspan></text>
<text x="1195.8" y="1498" text-anchor="end">10<tspan class="sp" dy="-19.4">−43</tspan></text>
</g>
<text class="pl" x="1238.6" y="885.7">(d)</text>
<line x1="1738.5" y1="889.2" x2="1783.8" y2="889.2" class="ks"/>
<line x1="1738.5" y1="944.6" x2="1783.8" y2="944.6" class="kdot2"/>
<line x1="1738.5" y1="1000.7" x2="1783.8" y2="1000.7" class="gd2"/>
<line x1="1738.5" y1="1042.3" x2="1783.8" y2="1042.3" class="gdd"/>
<text class="lg" x="1800.8" y="883">Flares on all solar-type stars</text>
<text class="lg" x="1800.8" y="907">(This work, N = 1272)</text>
<text class="lg" x="1800.8" y="939">Flares on sun-like stars</text>
<text class="lg" x="1800.8" y="963">(This work, N = 4)</text>
<text class="lg" x="1800.8" y="995">Flares on all solar-type stars</text>
<text class="lg" x="1800.8" y="1018.9">(Tu et al. 2020, N = 1216)</text>
<text class="lg" x="1800.8" y="1050.6">Maehara et al. (2015)</text>
<text class="al" x="1499.5" y="1568.5">Flare Energy <tspan class="mt" style="letter-spacing:.45px">(erg)</tspan></text>
<text class="al" transform="translate(1113.3 1401.5) rotate(-90)">Flare Frequency <tspan class="mt">(</tspan><tspan class="mt" dx="3.2" style="letter-spacing:.45px">erg</tspan><tspan class="ss" dx=".5" dy="-13.6">−1</tspan><tspan class="mt" dy="13.6" dx="-.3">yr</tspan><tspan class="ss" dx="-1.6" dy="-13.6">−1</tspan><tspan class="mt" dy="13.6" dx="-.4">)</tspan></text>
</g>
</svg>
</body></html>
